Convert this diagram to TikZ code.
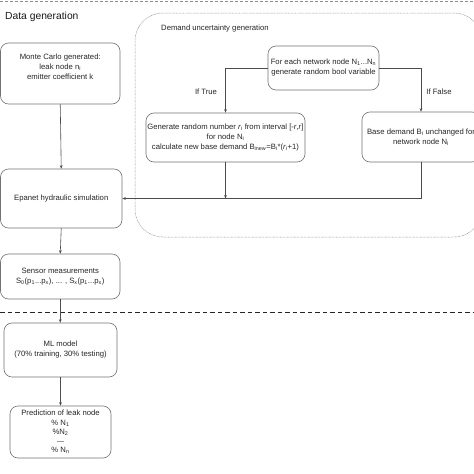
\documentclass[tikz,border=0pt]{standalone}
\usepackage{fontspec}
\setmainfont{Liberation Sans}
\usetikzlibrary{arrows.meta}
\newcommand\sbx[1]{\textsubscript{#1}}
\begin{document}
\begin{tikzpicture}[x=1pt,y=-1pt,
  box/.style={draw=black!55, line width=0.6pt, rounded corners=8pt, align=center, inner sep=0pt, font=\fontsize{7.7}{10}\selectfont, text=black!85},
  conn/.style={draw=black!70, line width=0.6pt},
  arr/.style={conn, -{Stealth[length=3.5pt,width=2.8pt]}},
  lbl/.style={font=\fontsize{7.7}{9}\selectfont, text=black!85},
  title/.style={font=\fontsize{10.3}{12}\selectfont, text=black!90}]
\useasboundingbox (0,0) rectangle (474,474);
\clip (0,0) rectangle (474,474);
\fill[white] (0,0) rectangle (474,474);
% frame lines
\draw[black!45, line width=1pt, dash pattern=on 3pt off 2pt] (0,1.5) -- (474,1.5);
\draw[black!85, line width=1pt, dash pattern=on 4.5pt off 3pt] (0,312) -- (474,312);
\draw[black!45, line width=0.5pt, dash pattern=on 0.7pt off 0.7pt, rounded corners=28pt] (135,13) rectangle (482,237);
\node[title, anchor=west, inner sep=0pt] (tdata) at (5,17) {Data generation};
\node[lbl, anchor=west, inner sep=0pt] (tdem) at (161,29) {Demand uncertainty generation};
% boxes
\node[box, minimum width=119.5pt, minimum height=61pt] (mc) at (60.25,73.5) {Monte Carlo generated:\\leak node n\sbx{i}\\emitter coefficient k\\[3pt]};
\node[box, minimum width=121.5pt, minimum height=59pt] (ep) at (61.25,198.5) {Epanet hydraulic simulation};
\node[box, minimum width=119.5pt, minimum height=45pt] (sens) at (60.25,276.5) {Sensor measurements\\S\sbx{0}(p\sbx{1}...p\sbx{x}), ... , S\sbx{x}(p\sbx{1}...p\sbx{x})};
\node[box, minimum width=113pt, minimum height=54pt] (ml) at (60.5,350) {ML model\\(70\% training, 30\% testing)};
\node[box, minimum width=101pt, minimum height=52pt, font=\fontsize{7.7}{9.2}\selectfont] (pred) at (60.5,432) {Prediction of leak node\\\% N\sbx{1}\\\%N\sbx{2}\\\textcolor{black!40}{\rule[2pt]{7pt}{0.4pt}}\\\% N\sbx{n}};
\node[box, minimum width=111pt, minimum height=44pt] (fe) at (323.5,68) {For each network node N\sbx{1}...N\sbx{n}\\generate random bool variable};
\node[box, minimum width=159pt, minimum height=49pt] (tr) at (225.5,137.5) {Generate random number \textit{r}\sbx{i} from interval [-\textit{r},\textit{r}]\\for node N\sbx{i}\\calculate new base demand B\sbx{inew}=B\sbx{i}*(\textit{r}\sbx{i}+1)};
\node[box, minimum width=118pt, minimum height=50pt] (bd) at (421,137) {Base demand B\sbx{i} unchanged for\\network node N\sbx{i}};
% labels
\node[lbl] (ltrue) at (206,92) {If True};
\node[lbl] (lfalse) at (439,92) {If False};
% connectors
\draw[arr] (mc.south) -- (ep.north);
\draw[arr] (ep.south) -- (sens.north);
\draw[arr] (sens.south) -- (sens.south |- ml.north);
\draw[arr] (ml.south) -- (ml.south |- pred.north);
\draw[arr] (fe.west) -| (tr.north);
\draw[arr] (fe.east) -| (bd.north);
\draw[arr] (tr.south) -- (tr.south |- ep.east);
\draw[arr] (bd.south) |- (ep.east);
\end{tikzpicture}
\end{document}
